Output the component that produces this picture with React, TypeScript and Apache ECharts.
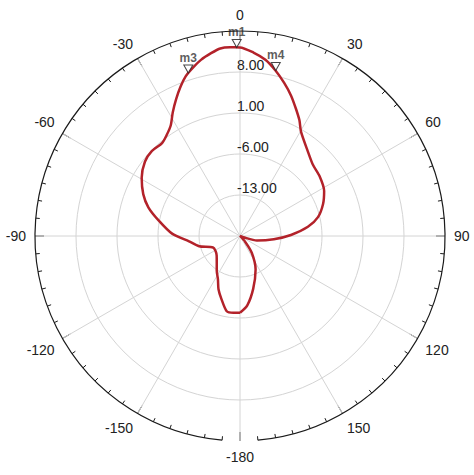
import React, { useEffect, useRef } from "react";
import * as echarts from "echarts";

// Pattern data: angle in degrees (-180..180, 0 at top, clockwise), gain in dB
const ANGLES = [-180, -175, -170, -163.5, -158, -153, -146, -139, -130, -122, -113, -104, -96, -88, -79, -72.6, -66.6, -59.4, -52, -46, -40, -36, -32, -28.5, -25, -21.6, -18.8, -15.8, -12.5, -9, -6, -3, 0, 4.2, 8.2, 12.1, 16.1, 20, 23.8, 27.2, 30.4, 38.8, 45.7, 53.1, 61.8, 68.9, 76.4, 82.3, 88.9, 95.5, 105, 110, 120, 138, 145, 155, 166, 174, 180];
const GAIN = [-6.9, -6.85, -6.95, -8.8, -10.2, -11.7, -12.9, -13.95, -14.8, -15.1, -15.0, -12.8, -11.25, -8.4, -5.8, -3.6, -2.0, -0.5, 0.6, 0.9, 0.7, 1.3, 2.3, 4.05, 5.8, 7.5, 8.8, 9.8, 10.8, 11.6, 12.2, 12.25, 12.2, 11.4, 10.4, 8.9, 7.2, 5.5, 3.7, 2.2, 0.6, -1.5, -2.6, -3.0, -3.7, -4.8, -6.3, -8.3, -11.3, -14.2, -17.0, -19.4, -20, -18.7, -16.5, -13.7, -10.7, -8.1, -6.9];

// Markers
const MARKER_NAMES = ["m1", "m3", "m4"];
const MARKER_ANGLES = [-1, -17.6, 12.2];
const MARKER_GAIN = [12.2, 9.2, 8.9];

// Radial scale (dB)
const R_MIN = -20;
const R_MAX = 15;
const R_STEP = 7;
const ANGLE_STEP = 30;

// Layout
const CX = 240;
const CY = 236;
const R = 205;

const FONT = "'Liberation Sans', Arial, sans-serif";

const toAngle = (a: number) => (a < 0 ? a + 360 : a);
const toR = (g: number) => g - R_MIN;

export default function App() {
  const ref = useRef<HTMLDivElement>(null);

  useEffect(() => {
    if (!ref.current) return;
    const chart = echarts.init(ref.current, undefined, { renderer: "svg" });

    const lineData = ANGLES.map((a, i) => [toR(GAIN[i]), toAngle(a)]);
    const markerData = MARKER_NAMES.map((n, i) => ({
      name: n,
      value: [toR(MARKER_GAIN[i]), toAngle(MARKER_ANGLES[i])],
    }));
    const span = R_MAX - R_MIN;
    const nCircles = Math.round(span / R_STEP);
    const circleColors = Array.from({ length: nCircles + 1 }, (_, i) =>
      i === nCircles ? "rgba(0,0,0,0)" : "#d4d4d4"
    );

    const option: any = {
      animation: false,
      backgroundColor: "#ffffff",
      textStyle: { fontFamily: FONT },
      polar: { center: [CX, CY], radius: R },
      angleAxis: {
        type: "value",
        min: 0,
        max: 360,
        interval: ANGLE_STEP,
        startAngle: 90,
        clockwise: true,
        axisLine: { show: false },
        axisTick: {
          show: true,
          inside: true,
          length: 9,
          lineStyle: { color: "#1a1a1a", width: 1 },
        },
        minorTick: {
          show: true,
          splitNumber: 6,
          length: 4,
          lineStyle: { color: "#1a1a1a", width: 1 },
        },
        axisLabel: {
          show: true,
          margin: 9,
          fontSize: 14,
          color: "#222",
          fontFamily: FONT,
          formatter: (v: number) => {
            if (v >= 360) return "";
            if (v >= 180) return String(v - 360);
            return String(v);
          },
        },
        splitLine: { show: true, lineStyle: { color: "#d4d4d4", width: 1 } },
      },
      radiusAxis: {
        type: "value",
        min: 0,
        max: span,
        interval: R_STEP,
        axisLine: { show: false },
        axisTick: { show: false },
        axisLabel: {
          show: true,
          margin: 3,
          align: "left",
          verticalAlign: "bottom",
          fontSize: 14,
          color: "#222",
          fontFamily: FONT,
          formatter: (v: number) =>
            v <= 0 || v >= span ? "" : (v + R_MIN).toFixed(2),
        },
        splitLine: { show: true, lineStyle: { color: circleColors, width: 1 } },
      },
      series: [
        {
          type: "line",
          coordinateSystem: "polar",
          data: lineData,
          showSymbol: false,
          smooth: 0.25,
          lineStyle: { color: "#b3222a", width: 2.5 },
          z: 3,
        },
        {
          type: "scatter",
          coordinateSystem: "polar",
          data: markerData,
          symbol: "triangle",
          symbolRotate: 180,
          symbolSize: [9, 8],
          symbolOffset: [0, -4],
          itemStyle: { color: "#ffffff", borderColor: "#1a1a1a", borderWidth: 1 },
          label: {
            show: true,
            position: "top",
            distance: 1,
            formatter: "{b}",
            fontSize: 12,
            fontWeight: "bold",
            color: "#333",
            fontFamily: FONT,
          },
          z: 5,
        },
      ],
      graphic: [
        {
          type: "arc",
          shape: {
            cx: CX,
            cy: CY,
            r: R,
            startAngle: (95 * Math.PI) / 180,
            endAngle: (445 * Math.PI) / 180,
            clockwise: true,
          },
          style: { stroke: "#1a1a1a", lineWidth: 1.2, fill: null },
          z: 10,
        },
      ],
    };

    chart.setOption(option);
    return () => chart.dispose();
  }, []);

  return (
    <div
      ref={ref}
      style={{ position: "fixed", left: 0, top: 0, width: 474, height: 475, background: "#fff" }}
    />
  );
}
